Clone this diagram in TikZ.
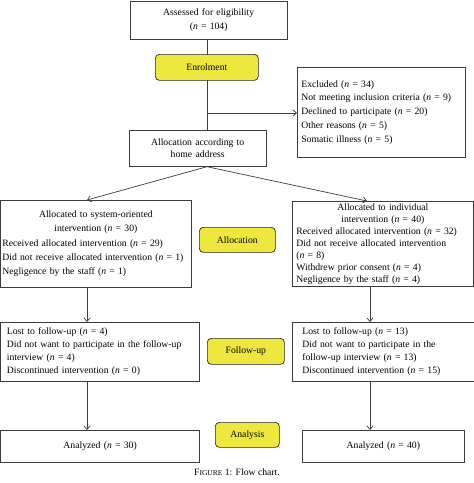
\documentclass[tikz,border=0pt]{standalone}
\usepackage{fontspec}
\setmainfont{Liberation Serif}
\usetikzlibrary{arrows.meta}
\newcommand\nnum{\textit{n}}
\definecolor{stageyellow}{RGB}{238,232,62}
\definecolor{linegray}{RGB}{60,60,60}
\tikzset{
  box/.style={draw=linegray, line width=0.7pt, fill=white, rectangle, anchor=north west, inner ysep=0pt},
  stage/.style={draw=black!85, line width=0.7pt, fill=stageyellow, rounded corners=4pt, anchor=north west, align=center, inner sep=0pt},
  conn/.style={draw=linegray, line width=0.7pt},
  arr/.style={conn, -{Straight Barb[length=3.5pt,width=6pt]}},
  txt/.style={font=\fontsize{9.7}{13.6}\selectfont}
}
\begin{document}
\begin{tikzpicture}[x=1pt,y=-1pt]
\useasboundingbox (0,0) rectangle (474,483);
\fill[white] (0,0) rectangle (474,483);
\coordinate (vx) at (207,0);
\coordinate (branch) at (207,113);
% boxes
\node[box, txt, minimum width=154pt, minimum height=38.5pt, text width=150pt, align=center] (assess) at (130,0.5) {Assessed for eligibility\\(\nnum{} = 104)};
\node[box, txt, minimum width=134pt, minimum height=36pt, text width=130pt, align=center, font=\fontsize{9.7}{12.5}\selectfont] (alloc) at (129,130) {Allocation according to\\home address};
\node[box, minimum width=168pt, minimum height=90pt, text width=160pt, inner xsep=4pt, align=left, font=\fontsize{9.7}{13.8}\selectfont] (excl) at (297,67) {Excluded (\nnum{} = 34)\\Not meeting inclusion criteria (\nnum{} = 9)\\Declined to participate (\nnum{} = 20)\\Other reasons (\nnum{} = 5)\\Somatic illness (\nnum{} = 5)};
\draw[conn] (assess.south -| vx) -- (alloc.north -| vx);
\draw[arr] (branch) -- (branch -| excl.west);
\node[stage, txt, minimum width=103pt, minimum height=26pt] (enrol) at (155,54) {Enrolment};

\node[box, minimum width=190pt, minimum height=87pt, text width=187pt, inner xsep=1.5pt, font=\fontsize{9.7}{14.2}\selectfont] (leftA) at (0.5,200) {{\centering Allocated to system-oriented\\intervention (\nnum{} = 30)\par}\raggedright Received allocated intervention (\nnum{} = 29)\\Did not receive allocated intervention (\nnum{} = 1)\\Negligence by the staff (\nnum{} = 1)};
\node[box, minimum width=181pt, minimum height=85pt, text width=173pt, inner xsep=4pt, font=\fontsize{9.7}{12}\selectfont] (rightA) at (292,201) {{\centering Allocated to individual\\intervention (\nnum{} = 40)\par}\raggedright Received allocated intervention (\nnum{} = 32)\\Did not receive allocated intervention\\(\nnum{} = 8)\\Withdrew prior consent (\nnum{} = 4)\\Negligence by the staff (\nnum{} = 4)};
\coordinate (la) at (87,200);
\coordinate (ra) at (367,201);
\coordinate (rx) at (370,0);
\draw[arr] (alloc.south -| vx) -- (la);
\draw[arr] (alloc.south -| vx) -- (ra);
\node[stage, txt, minimum width=76pt, minimum height=25pt] (allocst) at (199,227) {Allocation};

\node[box, minimum width=197.5pt, minimum height=59pt, text width=186pt, inner xsep=6pt, align=left, font=\fontsize{9.7}{13}\selectfont] (leftF) at (0.5,322) {Lost to follow-up (\nnum{} = 4)\\Did not want to participate in the follow-up\\interview (\nnum{} = 4)\\Discontinued intervention (\nnum{} = 0)};
\node[box, minimum width=181.5pt, minimum height=59pt, text width=171pt, inner xsep=10pt, align=left, font=\fontsize{9.7}{13}\selectfont] (rightF) at (292,322) {Lost to follow-up (\nnum{} = 13)\\Did not want to participate in the\\follow-up interview (\nnum{} = 13)\\Discontinued intervention (\nnum{} = 15)};
\draw[arr] (leftA.south -| la) -- (leftF.north -| la);
\draw[arr] (rightA.south -| rx) -- (rightF.north -| rx);
\node[stage, txt, minimum width=77pt, minimum height=26pt] (fust) at (207,338) {Follow-up};

\node[box, txt, minimum width=198.5pt, minimum height=32pt, text width=190pt, align=center] (leftN) at (0.5,430) {Analyzed (\nnum{} = 30)};
\node[box, txt, minimum width=162pt, minimum height=32pt, text width=155pt, align=center] (rightN) at (302,430) {Analyzed (\nnum{} = 40)};
\draw[arr] (leftF.south -| la) -- (leftN.north -| la);
\draw[arr] (rightF.south -| rx) -- (rightN.north -| rx);
\node[stage, txt, minimum width=64pt, minimum height=25pt] (anst) at (215,422) {Analysis};

\node[font=\fontsize{9.7}{12}\selectfont, inner sep=0pt] (caption) at (237,472) {F{\fontsize{7.5}{9}\selectfont IGURE} 1: Flow chart.};
\end{tikzpicture}
\end{document}
